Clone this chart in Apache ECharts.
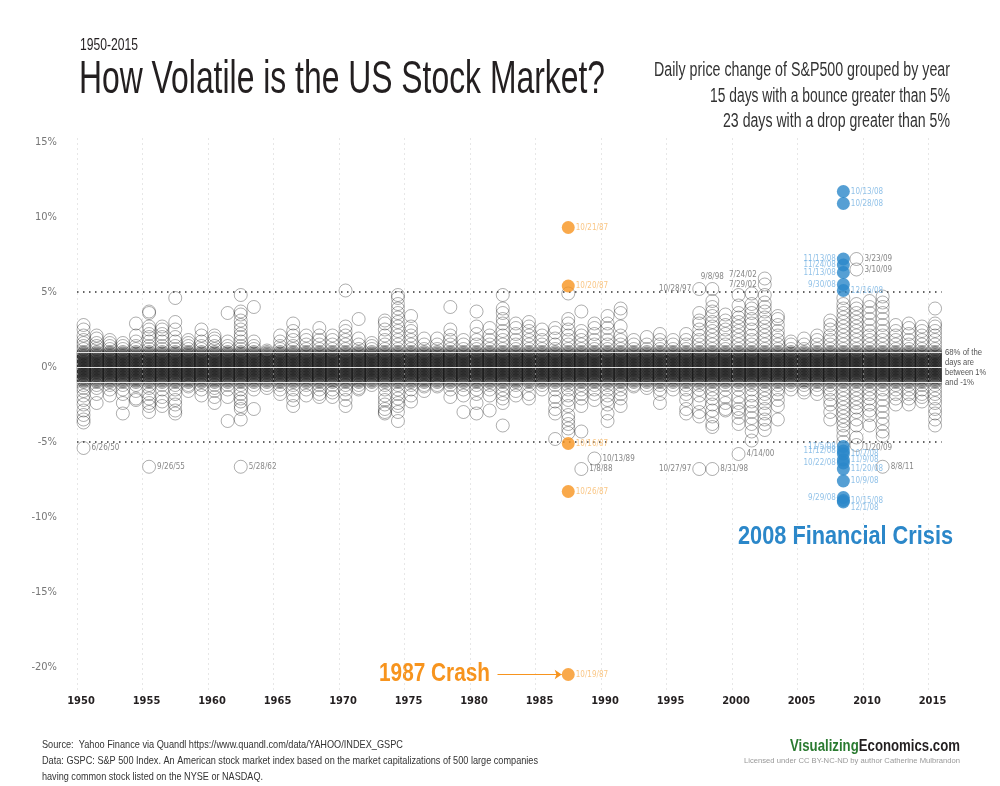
<!DOCTYPE html>
<html>
<head>
<meta charset="utf-8">
<title>How Volatile is the US Stock Market?</title>
<script src="https://cdn.jsdelivr.net/npm/echarts@6/dist/echarts.min.js"></script>
<style>
  html, body { margin: 0; padding: 0; background: #fff; }
  #chart { width: 1000px; height: 786px; }
</style>
</head>
<body>
<div id="chart"></div>
<script>
// years on the x axis (each column is drawn at year + 0.5)
const years = [1950, 1951, 1952, 1953, 1954, 1955, 1956, 1957, 1958, 1959,
  1960, 1961, 1962, 1963, 1964, 1965, 1966, 1967, 1968, 1969,
  1970, 1971, 1972, 1973, 1974, 1975, 1976, 1977, 1978, 1979,
  1980, 1981, 1982, 1983, 1984, 1985, 1986, 1987, 1988, 1989,
  1990, 1991, 1992, 1993, 1994, 1995, 1996, 1997, 1998, 1999,
  2000, 2001, 2002, 2003, 2004, 2005, 2006, 2007, 2008, 2009,
  2010, 2011, 2012, 2013, 2014, 2015];

// the dense band of ordinary days, between about -1% and 1%
const coreBand = [-1.0, -0.9, -0.8, -0.7, -0.6, -0.5, -0.4, -0.3, -0.2, -0.1, 0,
  0.1, 0.2, 0.3, 0.4, 0.5, 0.6, 0.7, 0.8, 0.9, 1.0];

// visible circles above the band, per year (%)
const upperTail = [
  [1.2, 1.4, 1.6, 1.8, 2.1, 2.5, 2.8],                          // 1950
  [1.2, 1.4, 1.6, 1.9, 2.1],
  [1.2, 1.4, 1.6, 1.8],
  [1.2, 1.4, 1.6],
  [1.2, 1.4, 1.7, 2.1, 2.9],
  [1.2, 1.4, 1.7, 2.0, 2.2, 2.5, 2.7, 3.6, 3.7],                // 1955
  [1.2, 1.4, 1.7, 2.0, 2.2, 2.5, 2.7],
  [1.2, 1.4, 1.7, 2.0, 2.5, 3.0, 4.6],
  [1.2, 1.4, 1.6, 1.8],
  [1.2, 1.4, 1.7, 2.1, 2.5],
  [1.2, 1.4, 1.7, 1.9, 2.1],                                    // 1960
  [1.2, 1.4, 1.7, 3.6],
  [1.2, 1.4, 1.7, 2.0, 2.2, 2.5, 2.8, 3.1, 3.5, 3.7, 4.8],
  [1.2, 1.4, 1.7, 4.0],
  [1.1],
  [1.2, 1.4, 1.7, 2.1],                                         // 1965
  [1.2, 1.4, 1.8, 2.1, 2.4, 2.9],
  [1.2, 1.5, 1.8, 2.1],
  [1.2, 1.5, 1.8, 2.1, 2.6],
  [1.2, 1.5, 1.8, 2.1],
  [1.2, 1.5, 1.8, 2.1, 2.4, 2.7, 5.1],                          // 1970
  [1.2, 1.5, 1.9, 3.2],
  [1.2, 1.4, 1.6],
  [1.2, 1.5, 1.8, 2.1, 2.5, 2.9, 3.1],
  [1.2, 1.5, 1.8, 2.1, 2.4, 2.7, 3.0, 3.3, 3.6, 3.9, 4.2, 4.6, 4.8],
  [1.2, 1.5, 1.8, 2.1, 2.4, 2.7, 3.4],                          // 1975
  [1.2, 1.5, 1.9],
  [1.2, 1.5, 1.9],
  [1.2, 1.5, 1.8, 2.1, 2.5, 4.0],
  [1.2, 1.5, 1.8],
  [1.2, 1.5, 1.8, 2.2, 2.7, 3.7],                               // 1980
  [1.2, 1.5, 1.8, 2.1, 2.6],
  [1.2, 1.5, 1.8, 2.1, 2.4, 2.9, 3.2, 3.6, 3.9, 4.8],
  [1.2, 1.5, 1.8, 2.2, 2.6, 2.9],
  [1.2, 1.5, 1.8, 2.1, 2.4, 2.7, 3.0],
  [1.2, 1.5, 1.8, 2.1, 2.5],                                    // 1985
  [1.2, 1.5, 1.9, 2.3, 2.6],
  [1.2, 1.5, 1.8, 2.1, 2.5, 2.9, 3.2, 4.9],
  [1.2, 1.5, 1.8, 2.1, 2.4, 3.7],
  [1.2, 1.5, 1.8, 2.2, 2.6, 2.9],
  [1.2, 1.5, 1.8, 2.2, 2.6, 2.9, 3.4],                          // 1990
  [1.2, 1.5, 1.8, 2.1, 2.7, 3.6, 3.9],
  [1.2, 1.5, 1.8],
  [1.2, 1.5, 2.0],
  [1.2, 1.5, 1.8, 2.2],
  [1.2, 1.5, 1.8],                                              // 1995
  [1.2, 1.5, 1.8, 2.2],
  [1.2, 1.5, 1.8, 2.1, 2.5, 2.9, 3.1, 3.6],
  [1.2, 1.5, 1.8, 2.1, 2.4, 2.7, 3.0, 3.4, 3.7, 4.0, 4.4],
  [1.2, 1.5, 1.8, 2.2, 2.5, 2.8, 3.1, 3.5],
  [1.2, 1.5, 1.8, 2.1, 2.4, 2.7, 3.0, 3.3, 3.6, 4.1, 4.8],      // 2000
  [1.2, 1.5, 1.8, 2.1, 2.5, 2.9, 3.2, 3.6, 3.9, 4.2, 4.9],
  [1.2, 1.5, 1.8, 2.1, 2.4, 2.7, 3.0, 3.3, 3.7, 4.0, 4.3, 4.8],
  [1.2, 1.5, 1.8, 2.1, 2.4, 2.8, 3.2, 3.4],
  [1.2, 1.5, 1.7],
  [1.2, 1.5, 1.9],                                              // 2005
  [1.2, 1.5, 1.8, 2.1],
  [1.2, 1.5, 1.8, 2.1, 2.5, 2.8, 3.1],
  [1.2, 1.5, 1.8, 2.1, 2.4, 2.7, 3.0, 3.3, 3.6, 3.9, 4.2, 4.6],
  [1.2, 1.5, 1.8, 2.1, 2.4, 2.7, 3.0, 3.3, 3.6, 3.9, 4.2],
  [1.2, 1.5, 1.8, 2.1, 2.4, 2.8, 3.2, 3.6, 4.0, 4.4],           // 2010
  [1.2, 1.5, 1.8, 2.1, 2.4, 2.8, 3.2, 3.6, 4.0, 4.3, 4.7],
  [1.2, 1.5, 1.8, 2.1, 2.4, 2.8],
  [1.2, 1.5, 1.8, 2.2, 2.6, 2.9],
  [1.2, 1.5, 1.8, 2.1, 2.4, 2.7],
  [1.2, 1.5, 1.8, 2.1, 2.4, 2.7, 2.9, 3.9]                      // 2015
];

// visible circles below the band, per year (%)
const lowerTail = [
  [-1.2, -1.4, -1.6, -1.9, -2.2, -2.5, -2.9, -3.2, -3.5, -3.7], // 1950
  [-1.2, -1.4, -1.8, -2.4],
  [-1.2, -1.5, -1.9],
  [-1.2, -1.5, -1.8, -2.4, -3.1],
  [-1.2, -1.6, -2.1, -2.2],
  [-1.2, -1.4, -1.8, -2.1, -2.4, -2.6, -3.0],                   // 1955
  [-1.2, -1.5, -2.0, -2.3, -2.6],
  [-1.2, -1.5, -1.8, -2.2, -2.5, -2.9, -3.1],
  [-1.2, -1.3, -1.6],
  [-1.2, -1.5, -1.9],
  [-1.2, -1.4, -1.6, -2.0, -2.4],                               // 1960
  [-1.2, -1.5, -2.0, -3.6],
  [-1.2, -1.5, -1.8, -2.1, -2.3, -2.6, -2.8, -3.5],
  [-1.2, -1.5, -2.8],
  [-1.2, -1.4],
  [-1.2, -1.5, -1.8],                                           // 1965
  [-1.2, -1.5, -1.9, -2.2, -2.6],
  [-1.2, -1.5, -1.9],
  [-1.2, -1.5, -1.8, -2.0],
  [-1.2, -1.5, -1.7, -2.0],
  [-1.2, -1.5, -1.8, -2.2, -2.6],                               // 1970
  [-1.2, -1.4, -1.5],
  [-1.2],
  [-1.2, -1.5, -1.9, -2.2, -2.5, -2.8, -3.0, -3.1],
  [-1.2, -1.5, -1.8, -2.1, -2.4, -2.6, -3.0, -3.6],
  [-1.2, -1.5, -1.9, -2.3],                                     // 1975
  [-1.2, -1.3, -1.6],
  [-1.2, -1.3],
  [-1.2, -1.5, -2.0],
  [-1.2, -1.5, -1.9, -3.0],
  [-1.2, -1.5, -1.8, -2.4, -3.1],                               // 1980
  [-1.2, -1.5, -1.9, -2.9],
  [-1.2, -1.5, -1.8, -2.1, -2.4, -3.9],
  [-1.2, -1.6, -1.9],
  [-1.2, -1.8, -2.1],
  [-1.2, -1.5],                                                 // 1985
  [-1.2, -1.5, -2.0, -2.3, -2.8, -3.1, -4.8],
  [-1.2, -1.5, -1.9, -2.2, -2.6, -3.2, -3.5, -3.8, -4.1, -4.4],
  [-1.2, -1.5, -1.8, -2.1, -2.6, -4.3],
  [-1.2, -1.5, -1.8, -2.2],
  [-1.2, -1.5, -1.9, -2.2, -2.5, -3.1, -3.6],                   // 1990
  [-1.2, -1.5, -1.8, -2.1, -2.6],
  [-1.2, -1.3],
  [-1.2, -1.4],
  [-1.2, -1.5, -1.8, -2.4],
  [-1.2, -1.5],                                                 // 1995
  [-1.2, -1.5, -1.8, -2.2, -2.8, -3.1],
  [-1.2, -1.5, -1.9, -2.4, -3.0, -3.3],
  [-1.2, -1.5, -1.8, -2.1, -2.5, -2.9, -3.3, -3.8, -4.0],
  [-1.2, -1.5, -2.0, -2.4, -2.8, -2.9],
  [-1.2, -1.5, -2.0, -2.4, -2.8, -3.0, -3.4, -3.8],             // 2000
  [-1.2, -1.5, -1.9, -2.3, -2.6, -3.0, -3.4, -3.8, -4.3, -4.9],
  [-1.2, -1.5, -1.8, -2.1, -2.4, -2.8, -3.1, -3.5, -3.8, -4.2],
  [-1.2, -1.5, -1.8, -2.2, -2.6, -3.5],
  [-1.2, -1.5],
  [-1.2, -1.5, -1.7],                                           // 2005
  [-1.2, -1.5, -1.8],
  [-1.2, -1.5, -1.8, -2.2, -2.5, -3.0, -3.5],
  [-1.2, -1.5, -1.8, -2.1, -2.4, -2.7, -3.0, -3.3, -3.6, -3.9, -4.2, -4.6, -5.0],
  [-1.2, -1.5, -1.8, -2.1, -2.4, -2.7, -3.0, -3.5, -3.9, -4.7],
  [-1.2, -1.5, -1.8, -2.1, -2.5, -2.9, -3.2, -3.9],             // 2010
  [-1.2, -1.5, -1.8, -2.2, -2.6, -3.0, -3.4, -3.8, -4.3, -4.6],
  [-1.2, -1.5, -1.8, -2.1, -2.5],
  [-1.2, -1.5, -1.8, -2.1, -2.5],
  [-1.2, -1.5, -1.8, -2.0, -2.3],
  [-1.2, -1.5, -1.8, -2.1, -2.4, -2.8, -3.1, -3.5, -3.9]        // 2015
];

// labelled days: date, year, daily change (%), group
const noteDates = ['6/26/50', '9/26/55', '5/28/62', '1/8/88', '10/13/89', '10/28/97', '10/27/97',
  '9/8/98', '8/31/98', '4/14/00', '7/24/02', '7/29/02', '3/23/09', '3/10/09', '1/20/09', '8/8/11',
  '10/21/87', '10/20/87', '10/16/87', '10/26/87', '10/19/87',
  '10/13/08', '10/28/08', '11/13/08', '11/24/08', '11/13/08', '9/30/08', '12/16/08',
  '11/5/08', '11/12/08', '10/7/08', '11/9/08', '10/22/08', '11/20/08', '10/9/08',
  '9/29/08', '10/15/08', '12/1/08'];
const noteYears = [1950, 1955, 1962, 1988, 1989, 1997, 1997,
  1998, 1998, 2000, 2002, 2002, 2009, 2009, 2009, 2011,
  1987, 1987, 1987, 1987, 1987,
  2008, 2008, 2008, 2008, 2008, 2008, 2008,
  2008, 2008, 2008, 2008, 2008, 2008, 2008,
  2008, 2008, 2008];
const noteValues = [-5.4, -6.65, -6.65, -6.8, -6.1, 5.2, -6.8,
  5.2, -6.8, -5.8, 5.9, 5.5, 7.2, 6.5, -5.2, -6.65,
  9.3, 5.4, -5.1, -8.3, -20.5,
  11.7, 10.9, 7.2, 6.8, 6.3, 5.5, 5.1,
  -5.3, -5.6, -5.8, -6.2, -6.4, -6.8, -7.6,
  -8.7, -9.0, -8.9];
const noteGroups = ['other', 'other', 'other', 'other', 'other', 'other', 'other',
  'other', 'other', 'other', 'other', 'other', 'other', 'other', 'other', 'other',
  'crash', 'crash', 'crash', 'crash', 'crash',
  'crisis', 'crisis', 'crisis', 'crisis', 'crisis', 'crisis', 'crisis',
  'crisis', 'crisis', 'crisis', 'crisis', 'crisis', 'crisis', 'crisis',
  'crisis', 'crisis', 'crisis'];

const xTicks = [1950, 1955, 1960, 1965, 1970, 1975, 1980, 1985, 1990, 1995, 2000, 2005, 2010, 2015];
const yTicks = [-20, -15, -10, -5, 0, 5, 10, 15];

const NARROW = "'DejaVu Sans Condensed', 'Liberation Sans', sans-serif";
const SANS = "'Liberation Sans', 'DejaVu Sans', sans-serif";
const ORANGE = '#F7941E';
const BLUE = '#2B87C9';

// label placement for the annotated days (style only)
const leftLabels = ['10/28/97', '10/27/97', '7/24/02', '7/29/02', '11/13/08', '11/24/08', '9/30/08',
  '11/5/08', '11/12/08', '10/22/08', '9/29/08'];
const topLabels = ['9/8/98'];
const labelShift = { '7/24/02': [0, -4], '12/1/08': [0, 7], '10/15/08': [0, -1], '1/20/09': [0, 3] };

const coreData = [];
const tailData = [];
years.forEach(function (yr, i) {
  coreBand.forEach(function (v) { coreData.push([yr + 0.5, v]); });
  upperTail[i].forEach(function (v) { tailData.push([yr + 0.5, v]); });
  lowerTail[i].forEach(function (v) { tailData.push([yr + 0.5, v]); });
});

function notesFor(group) {
  const out = [];
  noteDates.forEach(function (d, i) {
    if (noteGroups[i] !== group) return;
    let pos = 'right';
    if (leftLabels.indexOf(d) >= 0) pos = 'left';
    if (topLabels.indexOf(d) >= 0) pos = 'top';
    out.push({
      name: d,
      value: [noteYears[i] + 0.5, noteValues[i]],
      label: { position: pos, distance: 1, offset: labelShift[d] || [0, 0] }
    });
  });
  return out;
}

// the original uses a condensed face; squeeze a regular one to the same width
const measureCtx = document.createElement('canvas').getContext('2d');
function textItem(text, x, y, font, fill, width, align) {
  measureCtx.font = font;
  const w = measureCtx.measureText(text).width;
  return {
    type: 'text', x: x, y: y, scaleX: width / w,
    style: { text: text, font: font, fill: fill, textAlign: align || 'left', textVerticalAlign: 'middle' }
  };
}

const siteFont = 'bold 17px ' + SANS;
measureCtx.font = siteFont;
const siteScale = 170 / measureCtx.measureText('VisualizingEconomics.com').width;

const chart = echarts.init(document.getElementById('chart'));

const option = {
  backgroundColor: '#ffffff',
  animation: false,
  grid: { left: 77, right: 58.4, top: 134.5, bottom: 96.5 },
  xAxis: {
    type: 'value',
    min: 1950,
    max: 2016,
    axisLine: { show: false },
    axisTick: { show: false },
    splitLine: { show: false },
    axisLabel: {
      customValues: xTicks,
      formatter: function (v) { return String(v); },
      color: '#231f20',
      fontFamily: NARROW,
      fontWeight: 'bold',
      fontSize: 11,
      margin: 6,
      padding: [0, 0, 0, 8]
    }
  },
  yAxis: {
    type: 'value',
    min: -21.5,
    max: 15.5,
    axisLine: { show: false },
    axisTick: { show: false },
    splitLine: { show: false },
    axisLabel: {
      customValues: yTicks,
      formatter: '{value}%',
      color: '#777',
      fontFamily: NARROW,
      fontSize: 11,
      margin: 20
    }
  },
  graphic: [
    textItem('1950-2015', 80, 45, '17px ' + SANS, '#231f20', 58),
    textItem('How Volatile is the US Stock Market?', 79, 80, '46px ' + SANS, '#231f20', 526),
    textItem('Daily price change of S&P500 grouped by year', 950, 70, '20px ' + SANS, '#333', 296, 'right'),
    textItem('15 days with a bounce greater than 5%', 950, 96, '20px ' + SANS, '#333', 240, 'right'),
    textItem('23 days with a drop greater than 5%', 950, 121, '20px ' + SANS, '#333', 227, 'right'),
    textItem('68% of the', 945, 353, '9px ' + SANS, '#555', 37),
    textItem('days are', 945, 363, '9px ' + SANS, '#555', 29),
    textItem('between 1%', 945, 373, '9px ' + SANS, '#555', 41),
    textItem('and -1%', 945, 383, '9px ' + SANS, '#555', 29),
    textItem('1987 Crash', 490, 674, 'bold 26px ' + SANS, ORANGE, 111, 'right'),
    textItem('2008 Financial Crisis', 953, 537, 'bold 26px ' + SANS, BLUE, 215, 'right'),
    textItem('Source:  Yahoo Finance via Quandl https://www.quandl.com/data/YAHOO/INDEX_GSPC', 42, 745, '11px ' + SANS, '#333', 361),
    textItem('Data: GSPC: S&P 500 Index. An American stock market index based on the market capitalizations of 500 large companies', 42, 761, '11px ' + SANS, '#333', 496),
    textItem('having common stock listed on the NYSE or NASDAQ.', 42, 777, '11px ' + SANS, '#333', 221),
    {
      type: 'text', x: 960, y: 746, scaleX: siteScale,
      style: {
        text: '{g|Visualizing}{k|Economics.com}',
        textAlign: 'right', textVerticalAlign: 'middle',
        rich: {
          g: { fill: '#2a7a30', font: siteFont },
          k: { fill: '#231f20', font: siteFont }
        }
      }
    },
    textItem('Licensed under CC BY-NC-ND by author Catherine Mulbrandon', 960, 761, '8px ' + SANS, '#999', 216, 'right')
  ],
  series: [
    {
      // vertical dotted guides every five years
      type: 'scatter', data: [], silent: true, z: 1,
      markLine: {
        silent: true, symbol: 'none', label: { show: false },
        lineStyle: { color: '#cfcfcf', type: [1, 4], width: 1 },
        data: xTicks.map(function (t) { return { xAxis: t }; })
      }
    },
    {
      type: 'scatter', name: 'core', silent: true, z: 2,
      symbolSize: 13,
      itemStyle: { color: 'rgba(20,20,20,0.2)', borderColor: 'rgba(0,0,0,0.4)', borderWidth: 1 },
      data: coreData
    },
    {
      type: 'scatter', name: 'tails', silent: true, z: 2,
      symbolSize: 13,
      itemStyle: { color: 'rgba(255,255,255,0)', borderColor: 'rgba(0,0,0,0.4)', borderWidth: 1 },
      data: tailData
    },
    {
      // white guides at 1%, 0 and -1%, dotted ones at +/-5%
      type: 'scatter', data: [], silent: true, z: 3,
      markLine: {
        silent: true, symbol: 'none', label: { show: false },
        data: [
          { yAxis: 1, lineStyle: { color: 'rgba(255,255,255,0.85)', type: 'solid', width: 1 } },
          { yAxis: 0, lineStyle: { color: 'rgba(255,255,255,0.85)', type: 'solid', width: 1 } },
          { yAxis: -1, lineStyle: { color: 'rgba(255,255,255,0.85)', type: 'solid', width: 1 } },
          { yAxis: 5, lineStyle: { color: '#333', type: [1.5, 4.5], width: 1.5 } },
          { yAxis: -5, lineStyle: { color: '#333', type: [1.5, 4.5], width: 1.5 } }
        ]
      }
    },
    {
      type: 'scatter', name: 'other', silent: true, z: 4,
      symbolSize: 13,
      itemStyle: { color: 'rgba(255,255,255,0)', borderColor: 'rgba(0,0,0,0.4)', borderWidth: 1 },
      label: { show: true, formatter: '{b}', color: '#666', fontSize: 8, fontFamily: NARROW },
      data: notesFor('other')
    },
    {
      type: 'scatter', name: 'crash', silent: true, z: 5,
      symbolSize: 13,
      itemStyle: { color: ORANGE },
      label: { show: true, formatter: '{b}', color: '#F9B865', fontSize: 8, fontFamily: NARROW },
      data: notesFor('crash'),
      markLine: {
        silent: true, symbol: ['none', 'arrow'], symbolSize: 7, label: { show: false },
        lineStyle: { color: ORANGE, type: 'solid', width: 1 },
        data: [[{ coord: [1982.1, -20.5] }, { coord: [1987.0, -20.5] }]]
      }
    },
    {
      type: 'scatter', name: 'crisis', silent: true, z: 5,
      symbolSize: 13,
      itemStyle: { color: BLUE },
      label: { show: true, formatter: '{b}', color: '#74B2E2', fontSize: 8, fontFamily: NARROW },
      data: notesFor('crisis')
    }
  ]
};

chart.setOption(option);
</script>
</body>
</html>
